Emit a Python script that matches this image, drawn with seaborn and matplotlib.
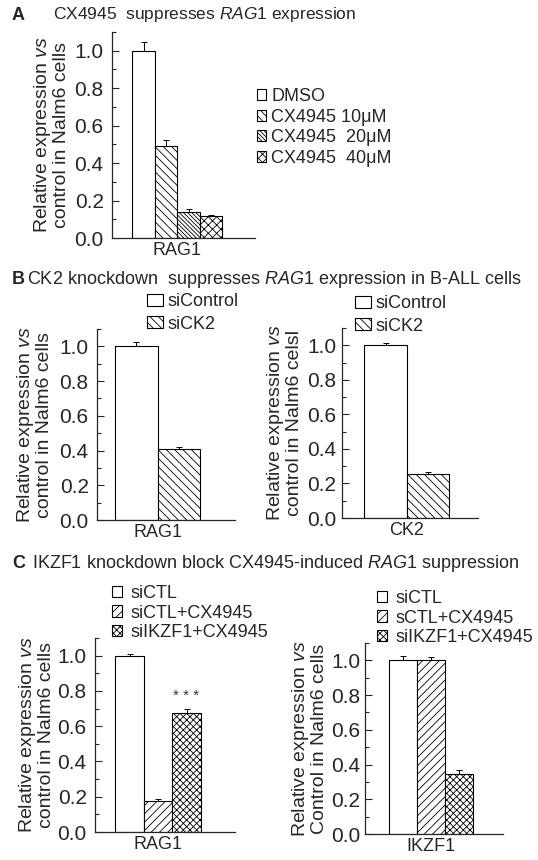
import matplotlib
matplotlib.use('Agg')
import matplotlib.pyplot as plt
import matplotlib.patches as mpatches
from matplotlib.ticker import MultipleLocator
import pandas as pd
import seaborn as sns

# panel A: CX4945 dose
genes_a = ['RAG1']
groups_a = ['DMSO', 'CX4945 10\u03bcM', 'CX4945  20\u03bcM', 'CX4945  40\u03bcM']
vals_a = [1.0, 0.49, 0.137, 0.118]
err_a = [0.045, 0.032, 0.017, 0.006]

# panel B: CK2 knockdown
groups_b = ['siControl', 'siCK2']
rag1_b = [1.0, 0.408]
rag1_b_err = [0.025, 0.014]
ck2_b = [1.0, 0.256]
ck2_b_err = [0.013, 0.011]

# panel C: IKZF1 knockdown
groups_c1 = ['siCTL', 'siCTL+CX4945', 'siIKZF1+CX4945']
groups_c2 = ['siCTL', 'sCTL+CX4945', 'siIKZF1+CX4945']
rag1_c = [1.0, 0.177, 0.675]
rag1_c_err = [0.01, 0.01, 0.025]
ikzf1_c = [1.0, 1.003, 0.345]
ikzf1_c_err = [0.023, 0.018, 0.022]

sns.set_style('ticks')
plt.rcParams['font.family'] = ['Liberation Sans', 'DejaVu Sans']
plt.rcParams['mathtext.fontset'] = 'custom'
plt.rcParams['mathtext.rm'] = 'Liberation Sans'
plt.rcParams['mathtext.it'] = 'Liberation Sans:italic'
plt.rcParams['hatch.linewidth'] = 0.6

W, H = 538, 860
fig = plt.figure(figsize=(W / 100, H / 100), dpi=100)


def px_axes(l, t, r, b):
    return fig.add_axes([l / W, 1 - b / H, (r - l) / W, (b - t) / H])


def draw_panel(ax, gene, groups, vals, errs, hatches, xlim, ylabel, lab_px, box, tpad=6):
    df = pd.DataFrame({'gene': gene, 'group': groups, 'value': vals})
    sns.barplot(data=df, x='gene', y='value', hue='group', hue_order=groups,
                palette=['white'] * len(groups), edgecolor='black', linewidth=0.8,
                errorbar=None, legend=False, ax=ax)
    for p, h, e in zip(ax.patches, hatches, errs):
        p.set_hatch(h)
        cx = p.get_x() + p.get_width() / 2
        ax.errorbar(cx, p.get_height(), yerr=[[0], [e]], fmt='none',
                    ecolor='black', elinewidth=0.7, capsize=2, capthick=0.7)
    ax.set_ylim(0, 1.1)
    ax.set_xlim(*xlim)
    ax.yaxis.set_major_locator(MultipleLocator(0.2))
    ax.yaxis.set_minor_locator(MultipleLocator(0.1))
    ax.tick_params(axis='y', which='major', direction='in', length=5, width=0.8,
                   labelsize=15, pad=tpad)
    ax.tick_params(axis='y', which='minor', direction='in', length=3, width=0.8)
    ax.tick_params(axis='x', length=0, labelsize=13, pad=3)
    ax.set_yticklabels([f'{t:.1f}' for t in ax.get_yticks()])
    ax.set_xlabel('')
    ax.set_ylabel(ylabel, fontsize=14, linespacing=1.0)
    l, r = box
    ax.yaxis.set_label_coords((lab_px - l) / (r - l), 0.5)
    sns.despine(ax=ax)
    for s in ['left', 'bottom']:
        ax.spines[s].set_linewidth(0.9)


def add_legend(ax, groups, hatches, x, y, hl, hh, spacing, pad):
    handles = [mpatches.Patch(facecolor='white', edgecolor='black', linewidth=0.8,
                              hatch=h, label=g) for g, h in zip(groups, hatches)]
    ax.legend(handles=handles, loc='upper left', bbox_to_anchor=(x / W, 1 - y / H),
              bbox_transform=fig.transFigure, frameon=False, fontsize=13,
              borderpad=0, borderaxespad=0, handlelength=hl, handleheight=hh,
              labelspacing=spacing, handletextpad=pad)


ylab1 = 'Relative expression $\\mathit{vs}$\ncontrol in Nalm6 cells'

# A
hat_a = ['', '\\\\\\\\', '\\\\\\\\\\\\\\\\', 'xxxx']
axA = px_axes(112, 32, 255, 238)
draw_panel(axA, genes_a * 4, groups_a, vals_a, err_a, hat_a, (-0.58, 0.69),
           ylab1, 70, (112, 255))
add_legend(axA, groups_a, hat_a, 257, 88, 0.5, 0.55, 0.2, 0.3)

# B
hat_b = ['', '\\\\\\\\']
axB1 = px_axes(97, 329, 235, 520)
draw_panel(axB1, ['RAG1'] * 2, groups_b, rag1_b, rag1_b_err, hat_b, (-0.57, 0.73),
           ylab1, 53, (97, 235))
add_legend(axB1, groups_b, hat_b, 147, 293, 0.9, 0.65, 0.32, 0.25)

axB2 = px_axes(342, 328, 478, 518)
draw_panel(axB2, ['CK2'] * 2, groups_b, ck2_b, ck2_b_err, hat_b, (-0.61, 0.67),
           'Relative expression $\\mathit{vs}$\ncontrol in Nalm6 celsl', 303, (342, 478),
           tpad=4)
add_legend(axB2, groups_b, hat_b, 355, 295, 0.9, 0.65, 0.32, 0.25)

# C
hat_c = ['', '////', 'xxxxx']
axC1 = px_axes(95, 638, 235, 832)
draw_panel(axC1, ['RAG1'] * 3, groups_c1, rag1_c, rag1_c_err, hat_c, (-0.59, 0.72),
           ylab1, 55, (95, 235))
add_legend(axC1, groups_c1, hat_c, 112, 585, 0.55, 0.6, 0.14, 0.5)
p3 = axC1.patches[2]
axC1.text(p3.get_x() + p3.get_width() / 2, p3.get_height() + rag1_c_err[2] + 0.03,
          '* * *', ha='center', va='bottom', fontsize=11, color='#333333')

axC2 = px_axes(365, 643, 503, 834)
draw_panel(axC2, ['IKZF1'] * 3, groups_c2, ikzf1_c, ikzf1_c_err, hat_c, (-0.63, 0.69),
           'Relative expression $\\mathit{vs}$\nControl in Nalm6 cells', 328, (365, 503),
           tpad=3.5)
add_legend(axC2, groups_c2, hat_c, 377, 590, 0.55, 0.6, 0.14, 0.5)

# panel titles
fig.text(12 / W, 1 - 15 / H, 'A', fontsize=13, fontweight='bold', va='center')
fig.text(53 / W, 1 - 15 / H, 'CX4945  suppresses $\\mathit{RAG1}$ expression',
         fontsize=12.5, va='center')
fig.text(12 / W, 1 - 279 / H, 'B', fontsize=13, fontweight='bold', va='center')
fig.text(27 / W, 1 - 279 / H,
         'CK2 knockdown  suppresses $\\mathit{RAG1}$ expression in B-ALL cells',
         fontsize=13, va='center')
fig.text(12 / W, 1 - 564 / H, 'C', fontsize=13, fontweight='bold', va='center')
fig.text(32 / W, 1 - 564 / H,
         'IKZF1 knockdown block CX4945-induced $\\mathit{RAG1}$ suppression',
         fontsize=13, va='center')

fig.savefig('out.png', dpi=100)
